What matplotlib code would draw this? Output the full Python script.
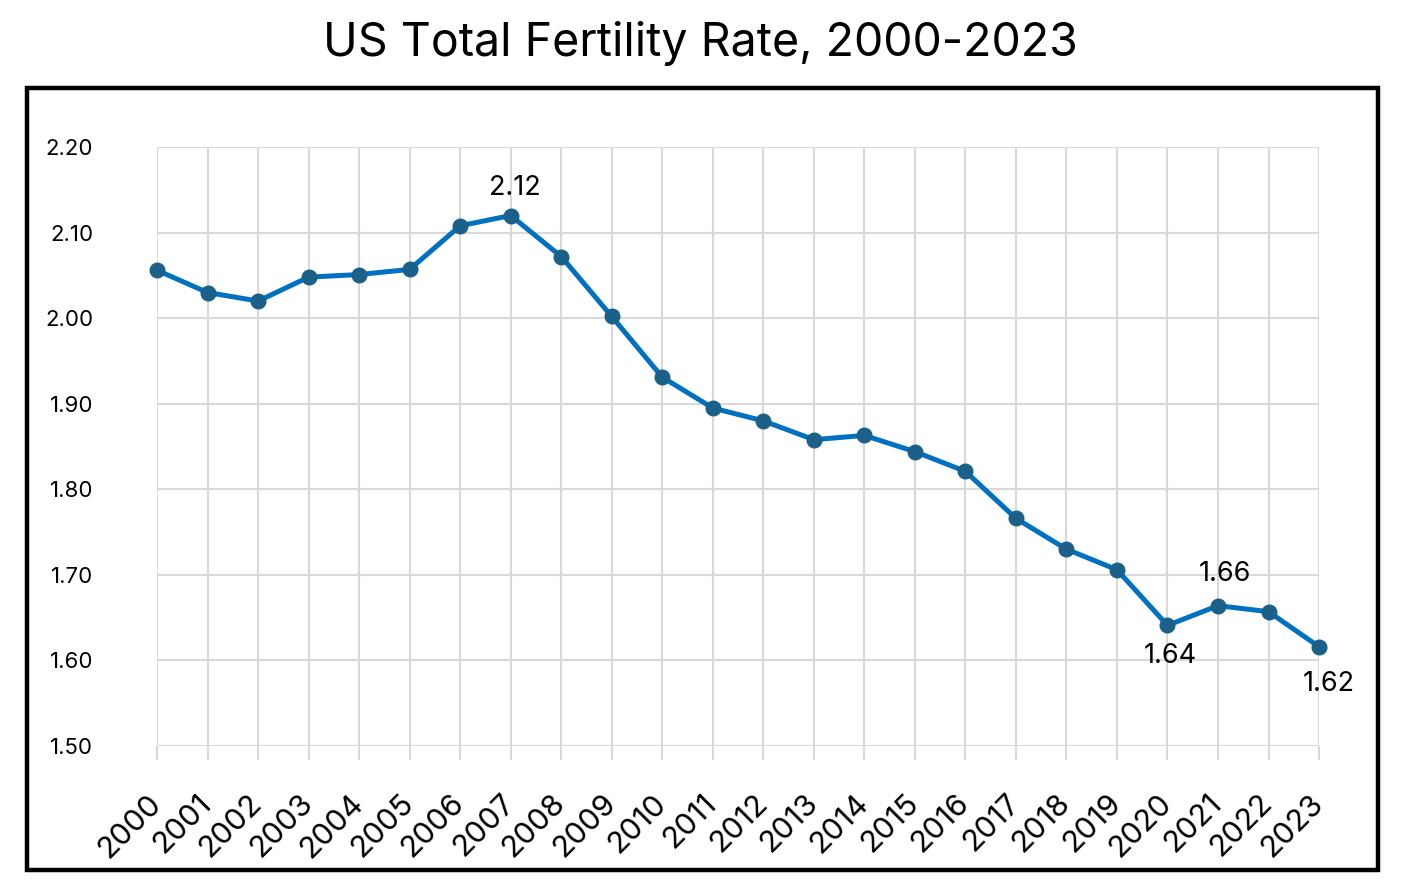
import matplotlib.pyplot as plt
from matplotlib.patches import Rectangle

# data
years = list(range(2000, 2024))
tfr = [2.056, 2.030, 2.020, 2.048, 2.051, 2.057, 2.108, 2.120, 2.072, 2.002,
       1.931, 1.895, 1.880, 1.858, 1.863, 1.844, 1.821, 1.766, 1.730, 1.706,
       1.641, 1.664, 1.657, 1.616]
yticks = [1.50, 1.60, 1.70, 1.80, 1.90, 2.00, 2.10, 2.20]
# label text, offset x / y in points
labelled = {2007: ('2.12', 3, 20),
            2020: ('1.64', 2, -22),
            2021: ('1.66', 5, 23),
            2023: ('1.62', 7, -27)}

plt.rcParams['font.family'] = ['Inter', 'DejaVu Sans']

fig = plt.figure(figsize=(14.01, 8.88), dpi=100)
fig.patches.append(Rectangle((0.0193, 0.0203), 0.9643, 0.8806, transform=fig.transFigure,
                             fill=False, edgecolor='black', linewidth=3.2))
fig.text(0.5, 0.951, 'US Total Fertility Rate, 2000-2023', ha='center', va='center', fontsize=33.5)

ax = fig.add_axes([0.1121, 0.1599, 0.8294, 0.6745])
ax.plot(years, tfr, color='#0070C0', linewidth=3.6, marker='o', markersize=10.5,
        markerfacecolor='#1B6088', markeredgecolor='#1B6088', clip_on=False, zorder=3)

for yr, (txt, dx, dy) in labelled.items():
    ax.annotate(txt, (yr, tfr[years.index(yr)]), xytext=(dx, dy), textcoords='offset points',
                ha='center', va='center', fontsize=19.5)

ax.set_xlim(2000, 2023)
ax.set_ylim(1.5, 2.2)
ax.set_xticks(years)
ax.set_xticklabels([str(y) for y in years], rotation=45, ha='right', va='center',
                   rotation_mode='anchor', fontsize=22)
ax.set_yticks(yticks)
ax.set_yticklabels(['%.2f' % v for v in yticks], fontsize=16)
ax.grid(True, color='#d9d9d9', linewidth=1.5)
for s in ax.spines.values():
    s.set_visible(False)
ax.tick_params(axis='x', length=10, width=1.5, color='#d9d9d9', pad=28)
ax.tick_params(axis='y', length=0, pad=46)

fig.savefig('out.png', dpi=100)
